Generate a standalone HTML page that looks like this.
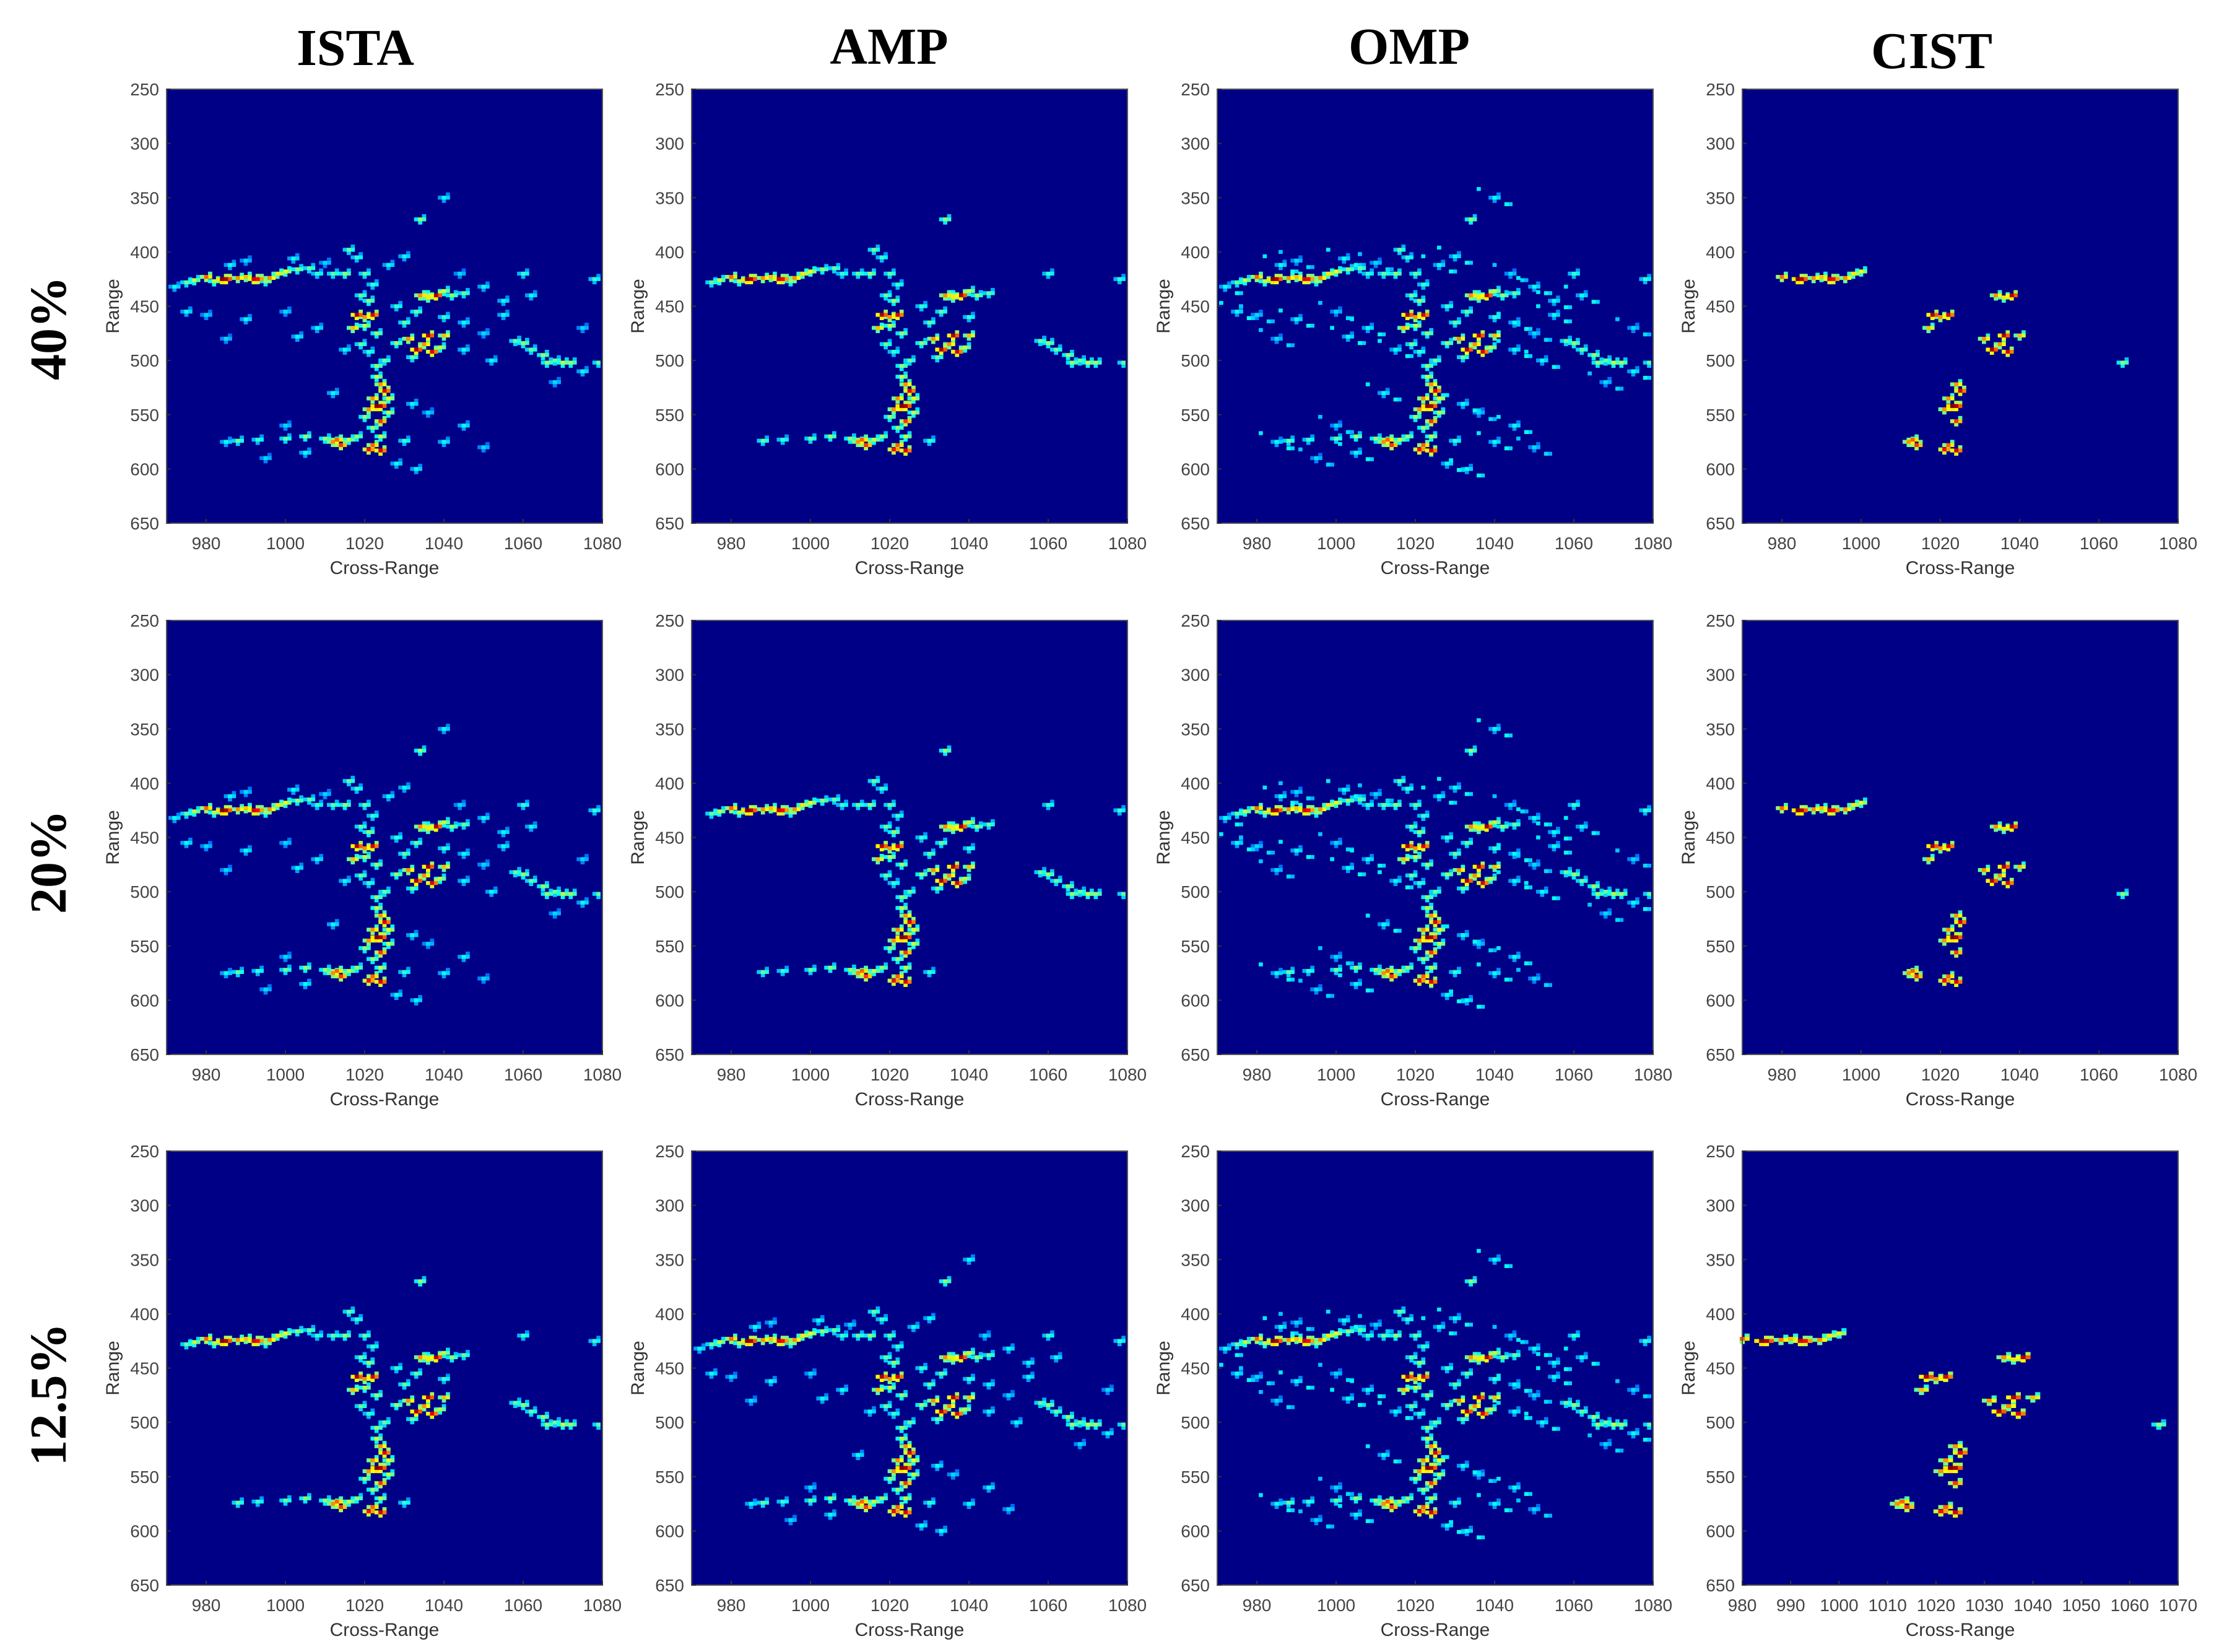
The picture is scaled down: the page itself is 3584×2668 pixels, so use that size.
<!DOCTYPE html>
<html><head><meta charset="utf-8">
<style>
html,body{margin:0;padding:0;background:#fff;}
svg{display:block;}
.tk{font-family:"Liberation Sans",sans-serif;font-size:28px;fill:#444;}
.al{font-family:"Liberation Sans",sans-serif;font-size:30px;fill:#333;}
.tt{font-family:"Liberation Serif",serif;font-weight:bold;font-size:84px;fill:#000;}
</style></head>
<body>
<svg id="fig" width="3584" height="2668" viewBox="0 0 3584 2668" xmlns="http://www.w3.org/2000/svg">
<rect x="0" y="0" width="3584" height="2668" fill="#fff"/>
<text class="tt" x="574" y="105" text-anchor="middle">ISTA</text>
<text class="tt" x="1436" y="103" text-anchor="middle">AMP</text>
<text class="tt" x="2276" y="103" text-anchor="middle">OMP</text>
<text class="tt" x="3120" y="110" text-anchor="middle">CIST</text>
<text class="tt" transform="translate(106,530) rotate(-90)" text-anchor="middle">40%</text>
<text class="tt" transform="translate(106,1392) rotate(-90)" text-anchor="middle">20%</text>
<text class="tt" transform="translate(106,2252) rotate(-90)" text-anchor="middle">12.5%</text>
<g id="panels"></g>
</svg>
<script>
// Strong cells: [cross-range, range, intensity 0..1]
const coreCells = [
[984,425,1],[985,425,0.95],[992,425,0.9],[993,425,0.85],[980,423,0.75],[988,424,0.7],[990,423,0.65],[996,424,0.7],[998,420,0.6],[1000,418,0.55],
[1018,458,0.95],[1022,458,0.9],[1020,460,0.7],[1017,470,0.65],
[1038,440,0.95],[1034,440,0.7],[1036,442,0.6],
[1036,477,0.95],[1031,480,0.7],[1040,477,0.65],[1033,490,0.95],[1037,492,0.9],[1035,485,0.7],
[1024,522,0.7],[1025,528,0.9],[1022,535,0.7],[1023,542,1],[1024,542,0.95],[1021,545,0.7],[1024,556,0.8],[1022,578,0.75],[1024,583,0.9],[1021,582,0.85],
[1012,575,0.7],[1013,573,0.75],[1014,578,0.8],[1066,502,0.45]
];
// Medium cells
const midCells = [
[975,428,0.4],[977,426,0.5],[1003,416,0.45],[1006,415,0.4],[1008,420,0.35],[1012,420,0.4],[1015,420,0.45],[982,427,0.5],[995,427,0.45],
[1016,398,0.4],[1018,405,0.35],[1020,420,0.4],[1022,430,0.35],[1019,440,0.4],[1021,445,0.45],[1020,468,0.5],[1023,475,0.45],[1019,485,0.4],[1021,492,0.35],[1025,500,0.4],
[1042,440,0.45],[1045,438,0.4],[1030,465,0.4],[1028,450,0.35],[1033,455,0.4],[1040,460,0.35],[1028,484,0.45],[1039,488,0.5],[1032,497,0.4],[1040,436,0.5],
[1058,482,0.4],[1060,484,0.45],[1062,490,0.4],[1065,495,0.45],[1068,500,0.4],[1070,502,0.5],[1072,502,0.45],[1079,502,0.4],[1078,425,0.35],[1060,420,0.35],
[1023,505,0.45],[1023,515,0.5],[1026,548,0.5],[1022,562,0.45],[1024,570,0.5],[1020,552,0.45],[1026,535,0.55],
[988,574,0.4],[993,573,0.35],[1000,572,0.4],[1005,570,0.45],[1010,572,0.45],[1016,573,0.5],[1018,570,0.45],[1030,574,0.35],[1034,370,0.45],[1035,440,0.6]
];
// Faint scattered cells
const faintCells = [
[972,432,0.3],[986,412,0.3],[990,408,0.25],[1002,406,0.3],[1010,410,0.25],[1026,412,0.3],[1030,404,0.3],[1044,420,0.25],[1050,432,0.3],[1055,445,0.3],
[980,458,0.25],[990,462,0.3],[1000,455,0.25],[1008,470,0.3],[1045,465,0.3],[1050,475,0.25],[1055,458,0.3],[1075,470,0.25],[985,480,0.25],[1003,478,0.3],
[1012,530,0.3],[1032,540,0.3],[1036,548,0.25],[1045,560,0.3],[1000,560,0.25],[985,575,0.3],[1040,575,0.3],[1050,580,0.25],[1033,600,0.3],[1040,350,0.3],
[1015,490,0.3],[1045,490,0.3],[1052,500,0.3],[1075,510,0.3],[1068,520,0.25],[995,590,0.25],[1005,585,0.3],[1028,595,0.3],[975,455,0.3],[1062,440,0.3]
];
const xTicksStd = [980,1000,1020,1040,1060,1080];
const xTicksFine = [980,990,1000,1010,1020,1030,1040,1050,1060,1070];
const yTicks = [250,300,350,400,450,500,550,600,650];
// Per-panel layer selection [row][col]: 1=core only, 2=core+mid, 3=core+mid+faint, 4=all + doubled faint
const panelLevels = [[3,2,4,1],[3,2,4,1],[2,3,4,1]];

const colLeft=[269,1117,1966,2814], rowTop=[144,1002,1859], PW=704, PH=701;
const NS="http://www.w3.org/2000/svg";
const root=document.getElementById('panels');
function mk(t,a){const e=document.createElementNS(NS,t);for(const k in a)e.setAttribute(k,a[k]);return e;}
function jet(v){
  const r=Math.max(0,Math.min(1,Math.min(4*v-1.5,-4*v+4.5)));
  const g=Math.max(0,Math.min(1,Math.min(4*v-0.5,-4*v+3.5)));
  const b=Math.max(0,Math.min(1,Math.min(4*v+0.5,-4*v+2.5)));
  return `rgb(${Math.round(r*255)},${Math.round(g*255)},${Math.round(b*255)})`;
}
for(let r=0;r<3;r++)for(let c=0;c<4;c++){
  const L=colLeft[c],T=rowTop[r];
  const fine=(r===2&&c===3);
  const x0=fine?980:970,x1=fine?1070:1080;
  const xs=v=>L+(v-x0)/(x1-x0)*PW;
  const ys=v=>T+(v-250)/400*PH;
  const g=mk('g',{});
  
  
  root.appendChild(g);
  const bg=mk('rect',{x:L,y:T,width:PW,height:PH,fill:'#000086'});
  
  
  g.appendChild(bg);
  const lvl=panelLevels[r][c];
  let cells=coreCells.slice();
  if(lvl>=2)cells=cells.concat(midCells);
  if(lvl>=3)cells=cells.concat(faintCells);
  const cw=PW/(x1-x0)*1.05, ch=PH/400*3.6;
  const layer=mk('g',{});
  g.appendChild(layer);
  const marks=[];
  function addCell(cx,cy,v){ if(cx<x0||cx>x1-0.5)return; marks.push([cx,cy,v]); }
  cells.forEach(d=>{
    addCell(d[0],d[1],d[2]);
    addCell(d[0]+1,d[1],d[2]*0.8);
    addCell(d[0]-1,d[1],d[2]*0.6);
    addCell(d[0],d[1]+3,d[2]*0.6);
    addCell(d[0]+1,d[1]-3,d[2]*0.5);
  });
  if(lvl>=4)faintCells.forEach(d=>{addCell(d[0]+3,d[1]+6,d[2]);addCell(d[0]+4,d[1]+6,d[2]*0.8);addCell(d[0]-4,d[1]-8,d[2]*0.9);});
  marks.sort((a,b)=>a[2]-b[2]).forEach(d=>{
    const rc=mk('rect',{x:xs(d[0])-cw/2,y:ys(d[1])-ch/2,width:cw,height:ch,fill:jet(0.12+d[2]*0.88)});
    
    
    layer.appendChild(rc);
  });
  g.appendChild(mk('rect',{x:L,y:T,width:PW,height:PH,fill:'none',stroke:'#555',"stroke-width":2}));
  yTicks.forEach(v=>{
    const t=mk('text',{x:L-12,y:ys(v)+10,"text-anchor":"end",class:'tk'});t.textContent=v;
    
    
    g.appendChild(t);
    g.appendChild(mk('line',{x1:L,x2:L+7,y1:ys(v),y2:ys(v),stroke:'#333',"stroke-width":2}));
  });
  (fine?xTicksFine:xTicksStd).forEach(v=>{
    const t=mk('text',{x:xs(v),y:T+PH+42,"text-anchor":"middle",class:'tk'});t.textContent=v;
    
    
    g.appendChild(t);
    g.appendChild(mk('line',{x1:xs(v),x2:xs(v),y1:T+PH,y2:T+PH-7,stroke:'#333',"stroke-width":2}));
  });
  const xl=mk('text',{x:L+PW/2,y:T+PH+82,"text-anchor":"middle",class:'al'});xl.textContent='Cross-Range';
  
  
  g.appendChild(xl);
  const yl=mk('text',{transform:`translate(${L-77},${T+PH/2}) rotate(-90)`,"text-anchor":"middle",class:'al'});yl.textContent='Range';
  
  
  g.appendChild(yl);
}
</script>
</body></html>
